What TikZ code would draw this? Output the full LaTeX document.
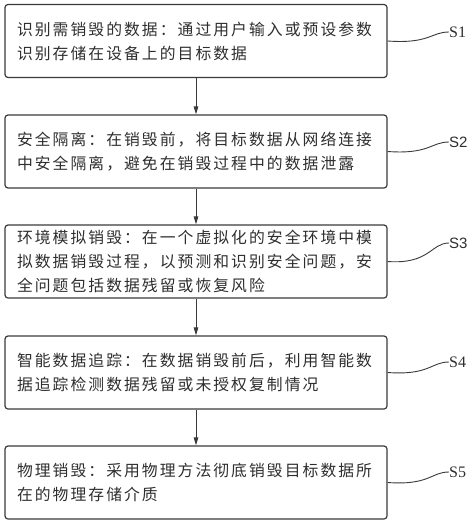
\documentclass[tikz,border=0pt]{standalone}
\usepackage{fontspec}
\usetikzlibrary{arrows.meta}
\newfontfamily\cjk[LetterSpace=13]{Noto Sans CJK SC}
\newfontfamily\lblserif{Liberation Serif}
\newfontfamily\lblsans{Liberation Sans}
\definecolor{ink}{HTML}{2E2E2E}
\definecolor{edge}{HTML}{3A3A3A}
\begin{document}
\begin{tikzpicture}[x=1pt,y=-1pt,
  stepbox/.style={draw=edge,line width=1.2pt,rounded corners=3pt,
    minimum width=382pt,minimum height=73pt,text width=358pt,
    inner xsep=12pt,inner ysep=0pt,align=left,text=ink,
    font=\cjk\fontsize{15.8}{24}\selectfont},
  flow/.style={draw=edge,line width=1pt,-{Triangle[length=8pt,width=4.5pt]}},
  leader/.style={draw=edge,line width=0.9pt},
  lbl/.style={anchor=west,inner sep=0pt,text=ink,font=\fontsize{16}{16}\selectfont}]
\useasboundingbox (0,0) rectangle (474,524);
\node[stepbox] (b1) at (196,41) {识别需销毁的数据：通过用户输入或预设参数\\识别存储在设备上的目标数据};
\node[stepbox] (b2) at (196,151.5) {安全隔离：在销毁前，将目标数据从网络连接\\中安全隔离，避免在销毁过程中的数据泄露};
\node[stepbox] (b3) at (196,261.5) {环境模拟销毁：在一个虚拟化的安全环境中模\\拟数据销毁过程，以预测和识别安全问题，安\\全问题包括数据残留或恢复风险};
\node[stepbox] (b4) at (196,372.5) {智能数据追踪：在数据销毁前后，利用智能数\\据追踪检测数据残留或未授权复制情况};
\node[stepbox] (b5) at (196,482.5) {物理销毁：采用物理方法彻底销毁目标数据所\\在的物理存储介质};
\draw[flow] (b1.south) -- (b2.north);
\draw[flow] (b2.south) -- (b3.north);
\draw[flow] (b3.south) -- (b4.north);
\draw[flow] (b4.south) -- (b5.north);
\node[lbl,font=\lblserif\fontsize{16}{16}\selectfont] (s1) at (449,32) {S1};
\node[lbl,font=\lblsans\fontsize{15}{15}\selectfont] (s2) at (449,142) {S2};
\node[lbl,font=\lblsans\fontsize{15}{15}\selectfont] (s3) at (449,243) {S3};
\node[lbl,font=\lblserif\fontsize{16}{16}\selectfont] (s4) at (449,362) {S4};
\node[lbl,font=\lblserif\fontsize{16}{16}\selectfont] (s5) at (449,472) {S5};
\foreach \i in {1,...,5}{
  \draw[leader] (b\i.east) .. controls +(42,3) and +(-18,0) .. (s\i.west);
}
\end{tikzpicture}
\end{document}
